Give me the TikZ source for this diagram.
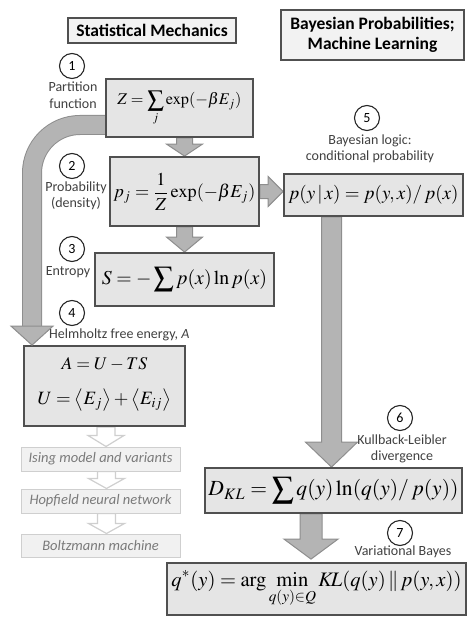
\documentclass[tikz,border=0pt]{standalone}
\usepackage{mathptmx}
\usepackage[no-math]{fontspec}
\setmainfont{Carlito}
\usepackage{graphicx}
\usetikzlibrary{calc}
\pgfdeclarelayer{bg}
\pgfsetlayers{bg,main}
\definecolor{boxfill}{HTML}{E5E5E5}
\definecolor{boxline}{HTML}{505050}
\definecolor{titlefill}{HTML}{F2F2F2}
\definecolor{arrfill}{HTML}{B4B4B4}
\definecolor{arrline}{HTML}{8E8E8E}
\definecolor{lightline}{HTML}{CFCFCF}
\definecolor{lightfill}{HTML}{F1F1F1}
\definecolor{lighttext}{HTML}{7A7A7A}
\definecolor{labeltext}{HTML}{404040}
\tikzset{
  eqbox/.style={draw=boxline, line width=1.8pt, fill=boxfill, inner sep=0pt, minimum width=#1},
  titlebox/.style={draw=boxline, line width=1.5pt, fill=titlefill, inner sep=0pt, align=center,
     font=\fontsize{17.5}{20}\selectfont\bfseries, minimum width=#1},
  lightbox/.style={draw=lightline, line width=1pt, fill=lightfill, inner sep=0pt,
     minimum width=159pt, minimum height=24pt, text=lighttext, font=\fontsize{14.5}{16}\selectfont\itshape},
  numcirc/.style={circle, draw=black!85, line width=1.1pt, fill=white, minimum size=25pt, inner sep=0pt,
     font=\fontsize{14}{16}\selectfont},
  lbl/.style={text=labeltext, align=center, inner sep=0pt, font=\fontsize{14}{16.5}\selectfont},
  eqtext/.style={inner sep=0pt},
  blockarrow/.style={fill=arrfill, draw=arrline, line width=1pt, line join=miter},
  lightarrow/.style={fill=white, draw=lightline, line width=1.2pt, line join=miter},
}
% vertical block arrow: style, from, to, shaft half-width, head half-width, head length
\newcommand\vblockarrow[6]{%
  \draw[#1] let \p1=(#2), \p2=(#3) in
    (\x1-#4,\y1) -- (\x1+#4,\y1) -- (\x1+#4,\y2+#6) -- (\x1+#5,\y2+#6) -- (\x1,\y2)
    -- (\x1-#5,\y2+#6) -- (\x1-#4,\y2+#6) -- cycle;}
% horizontal (rightward) block arrow
\newcommand\hblockarrow[6]{%
  \draw[#1] let \p1=(#2), \p2=(#3) in
    (\x1,\y1+#4) -- (\x2-#6,\y1+#4) -- (\x2-#6,\y1+#5) -- (\x2,\y1) -- (\x2-#6,\y1-#5)
    -- (\x2-#6,\y1-#4) -- (\x1,\y1-#4) -- cycle;}
\begin{document}
\begin{tikzpicture}[x=1pt,y=-1pt]
\useasboundingbox (0,0) rectangle (474,631);
% titles
\node[titlebox=168pt, minimum height=25pt] (t1) at (152,30.5) {Statistical Mechanics};
\node[titlebox=183pt, minimum height=50pt] (t2) at (372.5,35) {Bayesian Probabilities;\\Machine Learning};
% equation boxes
\node[eqbox=147pt, minimum height=58pt] (Z) at (179.5,108)
  {\resizebox{124pt}{!}{$\displaystyle Z=\sum_j \exp(-\beta E_j)$}};
\node[eqbox=149pt, minimum height=69pt] (pj) at (184.5,191.5)
  {\resizebox{142pt}{!}{$\displaystyle p_j=\frac{1}{Z}\exp(-\beta E_j)$}};
\node[eqbox=179pt, minimum height=53pt] (S) at (184.5,279.5)
  {\resizebox{165pt}{!}{$\displaystyle S=-\sum p(x)\ln p(x)$}};
\node[eqbox=161pt, minimum height=80pt] (A) at (104.5,386) {};
\node[eqtext] (A1) at ([yshift=22pt]A.center) {\resizebox{86pt}{!}{$A=U-TS$}};
\node[eqtext] (A2) at ([yshift=-14pt]A.center)
  {\resizebox{134pt}{!}{$\displaystyle U=\bigl\langle E_j\bigr\rangle+\bigl\langle E_{ij}\bigr\rangle$}};
\node[eqbox=179pt, minimum height=42pt] (pyx) at (373.5,195)
  {\resizebox{170pt}{!}{$p(y\,|\,x)=p(y,x)/\,p(x)$}};
\node[eqbox=257pt, minimum height=45pt] (DKL) at (333.5,490.5)
  {\resizebox{250pt}{!}{$\displaystyle D_{KL}=\sum q(y)\ln(q(y)/\,p(y))$}};
\node[eqbox=299pt, minimum height=52pt] (qs) at (316.5,589)
  {\resizebox{290pt}{!}{$\displaystyle q^*(y)=\arg\min_{q(y)\in Q} K\!L(q(y)\,\|\,p(y,x))$}};
% light boxes
\node[lightbox] (ising) at (100.5,459) {Ising model and variants};
\node[lightbox] (hop) at (100.5,501) {Hopfield neural network};
\node[lightbox, minimum height=23pt] (boltz) at (100.5,545.5) {Boltzmann machine};
% numbered circles and labels
\node[numcirc] (c1) at (72,66) {1};
\node[numcirc] (c2) at (72,166) {2};
\node[numcirc] (c3) at (72,249) {3};
\node[numcirc] (c4) at (72,313) {4};
\node[numcirc] (c5) at (367,118) {5};
\node[numcirc] (c6) at (400,418) {6};
\node[numcirc] (c7) at (400,533) {7};
\node[lbl] (l1) at (73,95) {Partition\\function};
\node[lbl] (l2) at (76,196) {Probability\\(density)};
\node[lbl] (l3) at (68,272) {Entropy};
\node[lbl, anchor=west] (l4) at (49,335) {Helmholtz free energy, \textit{A}};
\node[lbl] (l5) at (370,149) {Bayesian logic:\\conditional probability};
\node[lbl] (l6) at (402,449) {Kullback-Leibler\\divergence};
\node[lbl] (l7) at (403,552) {Variational Bayes};
% connectors
\begin{pgfonlayer}{bg}
  \vblockarrow{blockarrow}{pj.north |- Z.south}{pj.north}{8pt}{18pt}{12pt}
  \vblockarrow{blockarrow}{S.north |- pj.south}{S.north}{8pt}{18pt}{15pt}
  \hblockarrow{blockarrow}{pj.east}{pyx.west |- pj.east}{7pt}{15pt}{15pt}
  \vblockarrow{blockarrow}{[xshift=-42pt]pyx.south}{DKL.north}{10pt}{26pt}{25pt}
  \vblockarrow{blockarrow}{[xshift=-22.5pt]DKL.south}{[yshift=3pt]qs.north}{11pt}{27pt}{20pt}
  \vblockarrow{lightarrow}{[xshift=1.5pt]A.south}{ising.north}{9pt}{18pt}{11pt}
  \vblockarrow{lightarrow}{[xshift=6pt]ising.south}{hop.north}{9pt}{18pt}{10pt}
  \vblockarrow{lightarrow}{[xshift=6pt]hop.south}{boltz.north}{9pt}{18pt}{10pt}
  % curved band from Z to A
  \draw[arrline, line width=20pt, rounded corners=48pt]
    ([yshift=-17pt]Z.west) -| ([xshift=-72.5pt,yshift=19pt]A.north);
  \draw[arrfill, line width=18pt, rounded corners=48pt]
    ([yshift=-17pt,xshift=2pt]Z.west) -| ([xshift=-72.5pt,yshift=19pt]A.north);
\end{pgfonlayer}
\draw[blockarrow] let \p1=([xshift=-72.5pt,yshift=19pt]A.north), \p2=(A.north) in
  (\x1-21pt,\y1) -- (\x1+21pt,\y1) -- (\x1,\y2) -- cycle;
\end{tikzpicture}
\end{document}
